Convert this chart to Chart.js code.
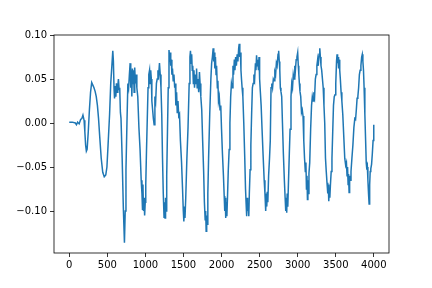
<!DOCTYPE html>
<html>
<head>
<meta charset="utf-8">
<script src="https://cdn.jsdelivr.net/npm/chart.js@4/dist/chart.umd.min.js"></script>
<style>
  html, body { margin: 0; padding: 0; background: #fff; }
  #wrap { width: 432px; height: 288px; }
</style>
</head>
<body>
<div id="wrap"><canvas id="chart" width="432" height="288"></canvas></div>
<script>
// sample positions and values
const sampleX = [
  0, 40, 80, 95, 110, 130, 150, 165, 180, 195, 205, 215, 225, 235, 250, 265, 280, 295, 310, 325,
  340, 355, 370, 385, 400, 420, 440, 460, 480, 495, 510, 530, 545, 560, 572, 580, 588, 595, 605, 612,
  620, 628, 638, 646, 655, 663, 672, 680, 695, 710, 725, 735, 745, 758, 770, 780, 790, 800, 808, 815,
  822, 830, 838, 845, 852, 860, 868, 878, 888, 900, 915, 930, 945, 955, 962, 968, 975, 982, 990, 998,
  1005, 1015, 1025, 1035, 1045, 1055, 1062, 1070, 1078, 1085, 1095, 1105, 1115, 1125, 1135, 1145, 1155, 1165, 1175, 1185,
  1195, 1205, 1215, 1225, 1235, 1245, 1252, 1258, 1265, 1272, 1280, 1290, 1300, 1310, 1318, 1325, 1333, 1340, 1348, 1356,
  1365, 1375, 1385, 1392, 1400, 1410, 1418, 1428, 1438, 1448, 1460, 1475, 1488, 1498, 1505, 1512, 1520, 1530, 1545, 1560,
  1575, 1585, 1592, 1600, 1608, 1615, 1622, 1630, 1638, 1645, 1655, 1665, 1672, 1680, 1690, 1700, 1710, 1718, 1728, 1740,
  1752, 1765, 1775, 1785, 1792, 1798, 1805, 1812, 1820, 1830, 1845, 1860, 1870, 1880, 1890, 1898, 1905, 1912, 1920, 1928,
  1935, 1945, 1952, 1960, 1970, 1980, 1990, 2000, 2012, 2025, 2035, 2042, 2048, 2055, 2062, 2070, 2078, 2088, 2100, 2110,
  2120, 2130, 2140, 2150, 2158, 2168, 2176, 2185, 2195, 2205, 2215, 2225, 2232, 2240, 2248, 2255, 2262, 2270, 2280, 2292,
  2305, 2315, 2322, 2330, 2336, 2342, 2350, 2358, 2365, 2375, 2385, 2395, 2405, 2415, 2425, 2435, 2445, 2452, 2460, 2468,
  2475, 2485, 2492, 2500, 2510, 2520, 2532, 2545, 2560, 2570, 2580, 2587, 2594, 2600, 2608, 2618, 2630, 2640, 2650, 2660,
  2670, 2680, 2690, 2700, 2710, 2720, 2730, 2742, 2750, 2758, 2765, 2772, 2780, 2790, 2800, 2812, 2825, 2835, 2843, 2850,
  2856, 2862, 2870, 2878, 2890, 2900, 2912, 2922, 2932, 2942, 2952, 2962, 2970, 2980, 2990, 3000, 3008, 3015, 3022, 3030,
  3040, 3050, 3060, 3070, 3080, 3090, 3100, 3108, 3115, 3122, 3128, 3134, 3140, 3148, 3158, 3170, 3182, 3192, 3202, 3212,
  3222, 3232, 3242, 3252, 3262, 3270, 3280, 3290, 3298, 3306, 3315, 3325, 3335, 3345, 3355, 3365, 3375, 3385, 3395, 3402,
  3408, 3415, 3422, 3430, 3440, 3450, 3460, 3470, 3480, 3490, 3500, 3510, 3517, 3524, 3530, 3537, 3544, 3552, 3560, 3570,
  3580, 3592, 3605, 3618, 3630, 3640, 3648, 3655, 3662, 3668, 3675, 3682, 3690, 3700, 3712, 3725, 3738, 3750, 3760, 3770,
  3780, 3790, 3800, 3810, 3820, 3830, 3840, 3848, 3856, 3864, 3872, 3882, 3892, 3900, 3908, 3915, 3922, 3930, 3938, 3945,
  3952, 3960, 3970, 3980, 3990, 3999
];
const signal = [
  0.001, 0.001, 0.000, -0.002, 0.001, -0.001, 0.004, 0.005, 0.009, 0.003, -0.010, -0.025, -0.032, -0.030, -0.010, 0.015, 0.035, 0.046, 0.043, 0.040,
  0.036, 0.030, 0.020, 0.005, -0.015, -0.040, -0.056, -0.061, -0.059, -0.050, -0.025, 0.010, 0.045, 0.065, 0.082, 0.070, 0.040, 0.028, 0.042, 0.030,
  0.045, 0.035, 0.042, 0.050, 0.038, 0.040, 0.012, 0.005, -0.040, -0.095, -0.136, -0.100, -0.053, 0.000, 0.045, 0.040, 0.055, 0.068, 0.040, 0.060,
  0.030, 0.062, 0.045, 0.060, 0.035, 0.063, 0.045, 0.055, 0.040, 0.030, -0.005, -0.030, -0.065, -0.080, -0.098, -0.070, -0.100, -0.085, -0.105, -0.090,
  -0.070, -0.030, 0.005, 0.040, 0.055, 0.060, 0.045, 0.060, 0.050, 0.025, 0.015, 0.005, -0.002, 0.030, 0.025, 0.045, 0.050, 0.060, 0.055, 0.068,
  0.055, 0.040, 0.010, -0.040, -0.080, -0.107, -0.090, -0.108, -0.085, -0.100, -0.060, -0.010, 0.040, 0.083, 0.075, 0.080, 0.065, 0.072, 0.055, 0.062,
  0.048, 0.055, 0.040, 0.045, 0.020, 0.035, 0.012, 0.025, 0.008, 0.010, -0.020, -0.045, -0.075, -0.100, -0.112, -0.095, -0.108, -0.085, -0.040, -0.005,
  0.045, 0.075, 0.082, 0.068, 0.078, 0.060, 0.065, 0.045, 0.060, 0.040, 0.055, 0.045, 0.062, 0.040, 0.050, 0.035, 0.058, 0.045, 0.030, 0.015,
  -0.020, -0.055, -0.090, -0.110, -0.100, -0.123, -0.105, -0.115, -0.080, -0.040, 0.010, 0.050, 0.068, 0.075, 0.085, 0.070, 0.080, 0.062, 0.075, 0.055,
  0.065, 0.040, 0.048, 0.025, 0.030, 0.015, 0.020, -0.007, -0.035, -0.060, -0.083, -0.100, -0.085, -0.108, -0.090, -0.106, -0.085, -0.055, -0.030, 0.000,
  0.030, 0.045, 0.040, 0.065, 0.055, 0.072, 0.060, 0.075, 0.065, 0.078, 0.070, 0.085, 0.090, 0.075, 0.080, 0.060, 0.050, 0.040, 0.030, 0.000,
  -0.040, -0.075, -0.090, -0.106, -0.085, -0.100, -0.092, -0.106, -0.080, -0.053, -0.025, 0.010, 0.040, 0.045, 0.055, 0.050, 0.068, 0.060, 0.077, 0.065,
  0.072, 0.060, 0.075, 0.050, 0.035, 0.020, -0.007, -0.035, -0.065, -0.080, -0.100, -0.080, -0.095, -0.078, -0.090, -0.060, -0.040, -0.020, 0.040, 0.045,
  0.040, 0.050, 0.048, 0.058, 0.055, 0.068, 0.065, 0.078, 0.082, 0.070, 0.060, 0.040, 0.036, 0.030, 0.000, -0.035, -0.065, -0.085, -0.100, -0.085,
  -0.102, -0.080, -0.095, -0.070, -0.035, -0.007, 0.030, 0.045, 0.040, 0.055, 0.050, 0.065, 0.060, 0.072, 0.075, 0.080, 0.065, 0.055, 0.045, 0.036,
  0.030, 0.012, 0.015, 0.008, -0.020, -0.040, -0.055, -0.045, -0.075, -0.060, -0.087, -0.065, -0.080, -0.057, -0.045, -0.007, 0.020, 0.030, 0.025, 0.035,
  0.030, 0.050, 0.055, 0.065, 0.072, 0.065, 0.078, 0.085, 0.075, 0.065, 0.060, 0.050, 0.040, 0.020, 0.000, -0.040, -0.055, -0.068, -0.080, -0.070,
  -0.089, -0.075, -0.085, -0.070, -0.055, -0.040, -0.010, 0.020, 0.030, 0.032, 0.045, 0.070, 0.078, 0.068, 0.075, 0.062, 0.072, 0.060, 0.050, 0.035,
  0.025, 0.010, -0.015, -0.040, -0.048, -0.045, -0.060, -0.050, -0.070, -0.058, -0.079, -0.060, -0.065, -0.055, -0.040, -0.025, -0.005, 0.005, 0.004, 0.015,
  0.028, 0.030, 0.040, 0.055, 0.060, 0.065, 0.075, 0.078, 0.070, 0.060, 0.040, 0.010, -0.020, -0.045, -0.053, -0.050, -0.065, -0.080, -0.092, -0.070,
  -0.055, -0.052, -0.047, -0.035, -0.020, -0.002
];
const xTicks = [0, 500, 1000, 1500, 2000, 2500, 3000, 3500, 4000];
const yTicks = [-0.10, -0.05, 0.00, 0.05, 0.10];

const points = sampleX.map((x, i) => ({ x: x, y: signal[i] }));

const fmtY = v => (v < 0 ? '\u2212' : '') + Math.abs(v).toFixed(2);

// matplotlib style frame round the plot area
const frameBox = {
  id: 'frameBox',
  afterDraw(chart) {
    const a = chart.chartArea, c = chart.ctx;
    c.save();
    c.strokeStyle = '#000';
    c.lineWidth = 0.8;
    c.strokeRect(a.left, a.top, a.right - a.left, a.bottom - a.top);
    c.restore();
  }
};

new Chart(document.getElementById('chart').getContext('2d'), {
  type: 'line',
  data: {
    datasets: [{
      data: points,
      borderColor: '#1f77b4',
      borderWidth: 1.5,
      pointRadius: 0,
      tension: 0,
      fill: false
    }]
  },
  options: {
    responsive: false,
    animation: false,
    layout: { padding: { top: 35, right: 43, left: 0, bottom: 0 } },
    plugins: { legend: { display: false }, tooltip: { enabled: false } },
    scales: {
      x: {
        type: 'linear',
        min: -200,
        max: 4199,
        afterBuildTicks: s => { s.ticks = xTicks.map(v => ({ value: v })); },
        afterFit: s => { s.height = 35; },
        grid: { drawOnChartArea: false, drawTicks: true, tickLength: 4, color: '#000', lineWidth: 0.8 },
        border: { display: false },
        ticks: {
          color: '#000',
          font: { family: 'DejaVu Sans', size: 10 },
          padding: 2,
          maxRotation: 0,
          autoSkip: false,
          callback: v => String(v)
        }
      },
      y: {
        min: -0.1477,
        max: 0.1,
        afterBuildTicks: s => { s.ticks = yTicks.map(v => ({ value: v })); },
        afterFit: s => { s.width = 54; },
        grid: { drawOnChartArea: false, drawTicks: true, tickLength: 4, color: '#000', lineWidth: 0.8 },
        border: { display: false },
        ticks: {
          color: '#000',
          font: { family: 'DejaVu Sans', size: 10 },
          padding: 3,
          autoSkip: false,
          callback: v => fmtY(v)
        }
      }
    }
  },
  plugins: [frameBox]
});
</script>
</body>
</html>
